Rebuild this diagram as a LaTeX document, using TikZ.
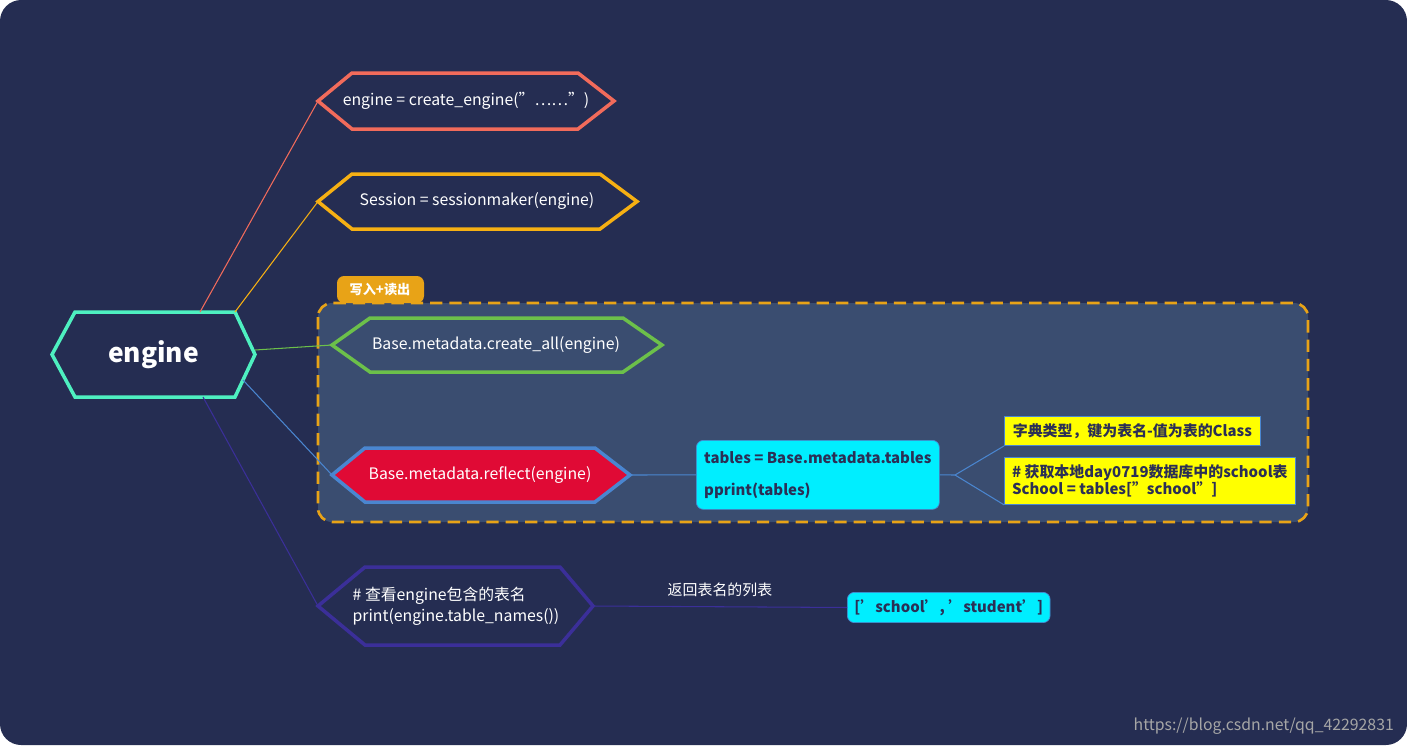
\documentclass[tikz,border=0pt]{standalone}
\usepackage{fontspec}
\setmainfont{Noto Sans CJK SC}
\usetikzlibrary{positioning}
\definecolor{bgnavy}{HTML}{252D52}
\definecolor{grpfill}{HTML}{3A4D70}
\definecolor{grporange}{HTML}{E8A317}
\definecolor{rootgreen}{HTML}{4EF0C0}
\definecolor{coral}{HTML}{F26B5B}
\definecolor{amber}{HTML}{F6B013}
\definecolor{leafgreen}{HTML}{6CC04A}
\definecolor{reflblue}{HTML}{4A86D0}
\definecolor{reflred}{HTML}{E00A35}
\definecolor{listpurple}{HTML}{3B2F99}
\definecolor{tblcyan}{HTML}{00EEFF}
\definecolor{noteyellow}{HTML}{FFFF00}
\definecolor{darktext}{HTML}{2B2F55}

% hexagon: name, left tip x, top-left x, top-right x, right tip x, top y, bottom y, stroke, fill
\newcommand{\hexbox}[9]{%
  \pgfmathsetmacro{\ymid}{(#6+#7)/2}
  \draw[line width=2pt, draw=#8, fill=#9, line join=miter]
    (#2,\ymid) -- (#3,#6) -- (#4,#6) -- (#5,\ymid) -- (#4,#7) -- (#3,#7) -- cycle;
  \coordinate (#1-w) at (#2,\ymid);
  \coordinate (#1-e) at (#5,\ymid);
  \coordinate (#1) at ({(#2+#5)/2},\ymid);
}

\begin{document}
\begin{tikzpicture}[x=0.02cm, y=-0.02cm,
    hextext/.style={text=white, font=\fontsize{9}{11}\selectfont, align=left},
    cyanbox/.style={fill=tblcyan, draw=reflblue, rounded corners=4pt, text=darktext,
      font=\bfseries\fontsize{8.5}{10}\selectfont, align=left, inner sep=4pt},
    notebox/.style={fill=noteyellow, draw=reflblue, line width=0.4pt, text=darktext,
      font=\bfseries\fontsize{8.5}{10}\selectfont, align=left, inner sep=4pt},
    link/.style={line width=0.6pt}]
  \useasboundingbox (0,0) rectangle (1407,745);

  % Background
  \fill[bgnavy, rounded corners=12pt] (0,0) rectangle (1407,745);

  % Group box
  \draw[grporange, line width=1.5pt, dash pattern=on 7pt off 4pt, fill=grpfill, rounded corners=8pt]
    (318,303) rectangle (1308,522);
  \fill[grporange, rounded corners=4pt] (337,303) -- (337,276) -- (424,276) -- (424,303) -- cycle;
  \node[text=white, font=\itshape\bfseries\fontsize{7.5}{9}\selectfont] (tab) at (380,290) {写入+读出};

  % Hexagons
  \hexbox{root}{52}{75}{235}{255}{312}{397}{rootgreen}{bgnavy}
  \hexbox{mk}{318}{352}{578}{614}{73}{129}{coral}{bgnavy}
  \hexbox{sess}{318}{352}{600}{637}{174}{229}{amber}{bgnavy}
  \hexbox{create}{332}{370}{623}{662}{318}{372}{leafgreen}{grpfill}
  \hexbox{refl}{332}{365}{595}{630}{448}{502}{reflblue}{reflred}
  \hexbox{names}{318}{365}{560}{593}{567}{645}{listpurple}{bgnavy}

  \node[text=white, font=\bfseries\fontsize{15}{18}\selectfont] (rootlbl) at (root) {engine};
  \node[hextext] (mklbl) at (466,101) {engine = create\_engine("……")};
  \node[hextext] (sesslbl) at (477,201) {Session = sessionmaker(engine)};
  \node[hextext] (createlbl) at (496,345) {Base.metadata.create\_all(engine)};
  \node[hextext] (refllbl) at (480,475) {Base.metadata.reflect(engine)};
  \node[hextext, font=\fontsize{9}{12}\selectfont] (nameslbl) at (456,606)
    {\# 查看engine包含的表名\\print(engine.table\_names())};

  % Leaf boxes
  \node[cyanbox, minimum width=243*0.02cm, minimum height=69*0.02cm, anchor=north west]
    (tables) at (696,440) {tables = Base.metadata.tables\\[8pt]pprint(tables)};
  \node[notebox, minimum width=256*0.02cm, minimum height=28*0.02cm, anchor=north west]
    (dictnote) at (1004,416) {字典类型，键为表名-值为表的Class};
  \node[notebox, minimum width=291*0.02cm, minimum height=47*0.02cm, anchor=north west]
    (schoolnote) at (1004,457) {\# 获取本地day0719数据库中的school表\\School = tables["school"]};
  \node[cyanbox, minimum width=156*0.02cm, minimum height=27*0.02cm, anchor=north west]
    (result) at (847,592) {['school', 'student']};

  % Connectors
  \coordinate (forkpt) at (955,475);
  \draw[link, coral] (200,312) -- (mk-w);
  \draw[link, amber] (235,312) -- (sess-w);
  \draw[link, leafgreen] (255,350) -- (create-w);
  \draw[link, reflblue] (243,380) -- (refl-w);
  \draw[link, listpurple] (203,397) -- (names-w);
  \draw[link, reflblue] (refl-e) -- (tables.west);
  \draw[link, reflblue] (tables.east) -- (forkpt) -- (dictnote.south west);
  \draw[link, reflblue] (forkpt) -- (schoolnote.south west);
  \draw[link, listpurple] (names-e) -- (result.west)
    node[pos=0.5, above=2pt, text=white, font=\fontsize{8.5}{10}\selectfont] (retlbl) {返回表名的列表};

  % Watermark
  \node[text=gray!70, font=\fontsize{9}{11}\selectfont, anchor=east] (mark) at (1400,726)
    {https://blog.csdn.net/qq\_42292831};
\end{tikzpicture}
\end{document}
